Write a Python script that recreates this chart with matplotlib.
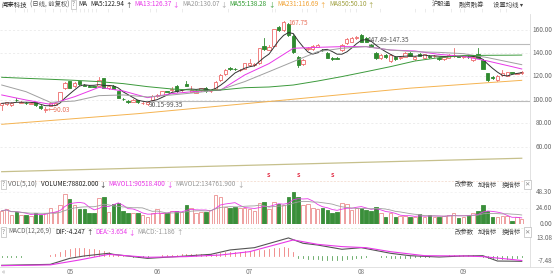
import matplotlib
matplotlib.use("Agg")
import matplotlib.pyplot as plt
import pandas as pd
from matplotlib import transforms

plt.rcParams['font.family'] = ['Noto Sans CJK SC', 'DejaVu Sans']

# ---- daily candles ----
opens = [95.2, 96.2, 95.6, 100.2, 97.5, 97.2, 96.8, 98.0, 95.0, 91.5,
         95.0, 96.0, 99.0, 110.0, 116.0, 112.0, 116.0, 112.5, 111.8, 111.5,
         112.0, 118.5, 110.0, 112.0, 107.5, 101.0, 99.0, 98.5, 99.9, 96.9,
         96.2, 100.0, 103.0, 104.2, 107.2, 108.2, 112.0, 108.3, 113.5, 107.0,
         106.0, 108.2, 110.4, 107.4, 109.3, 117.0, 121.8, 127.0, 126.2, 125.5,
         126.4, 129.8, 129.5, 131.2, 146.3, 142.7, 146.3, 162.6, 159.7, 165.0,
         155.0, 136.9, 130.4, 143.8, 143.5, 145.5, 142.6, 139.8, 136.1, 135.8,
         142.6, 148.3, 149.8, 153.2, 155.5, 153.2, 146.9, 139.8, 135.5, 138.4,
         133.5, 136.7, 135.5, 136.9, 139.8, 134.9, 139.5, 136.1, 137.8, 137.6,
         136.1, 134.7, 136.1, 137.5, 137.1, 136.7, 137.0, 134.0, 138.9, 134.1,
         122.7, 119.8, 117.0, 121.3, 120.7, 123.5, 122.3, 122.7]
highs = [97.5, 98.5, 98.0, 102.0, 99.0, 98.0, 97.8, 98.5, 95.5, 93.5,
         98.0, 98.5, 107.0, 115.0, 116.5, 115.0, 116.5, 113.5, 112.5, 112.2,
         119.5, 119.0, 112.5, 112.5, 108.0, 102.0, 99.5, 100.5, 100.3, 97.8,
         98.5, 104.0, 105.0, 108.0, 108.0, 111.0, 112.5, 109.2, 116.0, 112.0,
         108.5, 110.5, 111.0, 108.5, 116.5, 122.0, 126.3, 128.5, 127.2, 126.6,
         131.8, 135.0, 131.5, 144.5, 152.5, 146.5, 161.0, 163.5, 167.75, 166.0,
         156.0, 137.5, 135.0, 145.0, 147.0, 147.5, 143.5, 140.5, 136.5, 136.5,
         147.5, 152.5, 154.0, 155.0, 156.0, 153.8, 147.5, 140.5, 139.0, 139.0,
         139.2, 137.3, 137.3, 140.5, 140.5, 137.5, 140.0, 139.6, 138.5, 138.5,
         136.7, 137.5, 139.0, 144.0, 137.6, 137.6, 137.5, 137.5, 144.5, 134.6,
         123.2, 120.3, 121.2, 125.5, 124.0, 124.0, 123.2, 125.0]
lows = [91.5, 95.5, 95.0, 98.8, 97.0, 96.3, 96.3, 95.0, 92.0, 90.03,
        94.5, 95.5, 98.5, 109.0, 110.0, 111.0, 113.0, 111.5, 110.8, 110.6,
        111.5, 110.0, 109.5, 109.0, 101.5, 99.5, 97.5, 98.0, 97.5, 96.2,
        95.5, 99.5, 102.5, 103.8, 106.3, 107.8, 107.0, 107.5, 112.0, 106.5,
        105.5, 107.8, 107.0, 106.8, 108.8, 116.5, 121.3, 125.8, 125.2, 124.8,
        126.0, 129.2, 129.0, 130.8, 143.0, 142.2, 146.0, 159.0, 159.2, 154.5,
        140.0, 128.5, 129.5, 143.0, 143.0, 145.0, 141.8, 135.5, 134.5, 134.6,
        142.0, 147.8, 149.3, 152.4, 149.3, 149.3, 145.0, 135.0, 135.0, 136.0,
        132.7, 134.5, 135.0, 136.5, 137.2, 134.5, 137.3, 135.6, 136.2, 137.0,
        134.5, 134.2, 135.6, 137.0, 136.3, 136.2, 136.2, 133.5, 135.6, 126.0,
        116.5, 117.8, 116.5, 120.8, 120.2, 122.8, 121.8, 122.2]
closes = [97.0, 97.8, 97.3, 99.5, 98.3, 97.0, 97.2, 95.6, 92.8, 92.5,
          97.0, 97.5, 106.5, 114.0, 110.5, 114.2, 113.8, 112.0, 111.3, 111.0,
          117.0, 110.5, 111.8, 109.4, 102.0, 100.5, 98.5, 99.9, 97.9, 97.2,
          97.8, 103.5, 104.5, 107.5, 107.0, 109.3, 107.6, 108.5, 112.2, 108.7,
          107.6, 109.9, 107.6, 107.8, 115.6, 121.3, 125.5, 126.6, 126.0, 125.9,
          131.2, 131.8, 130.7, 144.1, 143.5, 145.5, 160.6, 159.7, 166.3, 155.5,
          141.2, 129.8, 134.1, 144.2, 146.3, 146.9, 142.3, 136.1, 135.0, 135.0,
          146.9, 152.0, 152.6, 153.4, 149.8, 149.8, 145.5, 135.5, 138.4, 136.7,
          138.5, 135.0, 136.7, 139.8, 137.8, 136.9, 137.8, 139.0, 136.7, 137.9,
          135.0, 136.9, 138.4, 138.0, 136.8, 137.1, 136.7, 136.9, 136.1, 126.4,
          117.0, 118.4, 120.7, 122.7, 123.5, 123.3, 122.6, 124.1]

# volume in 10k lots
volumes = [19.9, 22, 13.5, 18.4, 13.5, 13.5, 12, 17, 14, 16,
           23.4, 18.4, 28.4, 44.8, 37.4, 28.4, 22.4, 22.4, 16, 16.5,
           38.4, 40.9, 18.4, 29.4, 30.9, 20, 16, 16, 17, 13.5,
           11, 17, 22, 16, 16, 20, 19.4, 18.4, 28.4, 23.4,
           16, 18.4, 18.4, 21, 43.3, 40.9, 25.9, 23.4, 25.9, 23.4,
           24.4, 22.4, 20, 31.9, 33.4, 22.4, 33.4, 30.4, 28.4, 40.9,
           48.3, 40.9, 28.4, 30.4, 24.4, 22.4, 23.4, 21, 17, 18.4,
           30.9, 30.4, 21, 24.4, 23.4, 21, 20, 25.4, 16, 11,
           16, 11, 12, 12, 11, 11, 14.5, 10, 13.5, 11,
           11, 12, 13.5, 16, 9.5, 11, 13.5, 16, 20, 28.4,
           19.4, 10, 11, 12, 12, 5, 10, 7]

macd_hist = [-1.0, -0.9, -0.8, -0.8, -0.7, -0.6, -0.5, -0.4, -0.3, -0.2,
             0.6, 1.5, 2.5, 4.0, 5.0, 5.5, 6.0, 5.8, 5.3, 5.0,
             4.3, 3.5, 2.5, 1.5, 0.8, 0.3, -0.5, -0.8, -1.0, -1.0,
             -0.8, -0.5, -0.2, 0.3, 0.5, 0.6, 0.8, 0.9, 1.0, 1.0,
             1.1, 1.2, 1.3, 1.3, 1.5, 2.0, 2.4, 2.6, 2.8, 3.0,
             3.3, 3.5, 3.8, 4.2, 4.6, 5.0, 5.5, 6.0, 6.3, 5.5,
             3.0, -1.5, -2.0, -2.3, -2.5, -2.8, -3.0, -3.2, -3.3, -3.2,
             -3.0, -2.6, -2.2, -1.8, -1.4, -1.0, -0.5, -0.3, -0.8, -1.2,
             -1.5, -1.6, -1.6, -1.5, -1.4, -1.3, -1.2, -1.0, -0.8, -0.6,
             -0.4, -0.2, 0.2, 0.4, 0.5, 0.4, 0.3, 0.2, 0.1, -1.0,
             -2.0, -2.5, -2.6, -2.5, -2.2, -1.8, -1.5, -1.2]
dif_idx = [0, 10, 14, 17, 22, 23, 30, 36, 43, 47, 52, 59, 62, 65, 70, 74, 80, 84, 90, 95, 99, 102, 107]
dif_val = [-7.2, -6.5, -2.0, -0.2, 1.8, 1.0, -2.0, -0.7, 1.0, 4.3, 6.0, 13.3, 9.3, 8.0, 4.8, 6.0, 1.8, 0.0, -1.0, -0.2, 0.0, -4.0, -4.2]
dea_idx = [0, 10, 16, 22, 30, 38, 45, 51, 60, 65, 70, 75, 80, 87, 95, 99, 104, 107]
dea_val = [-7.5, -6.9, -3.2, 1.0, -1.2, -0.7, 0.5, 3.0, 11.8, 8.5, 6.8, 6.0, 3.0, 0.0, -0.2, -0.7, -2.5, -3.6]

# moving averages
ma_idx = [0, 5, 10, 15, 20, 25, 30, 35, 40, 45, 50, 55, 60, 65, 70, 75, 80, 85, 90, 95, 100, 105, 107]
ma13 = [104.2, 99.9, 96.2, 102.7, 110.7, 107.6, 101.9, 105.3, 107.3, 108.2, 121.3, 131.0,
        144.1, 144.9, 145.5, 145.5, 142.6, 141.8, 138.9, 137.2, 133.2, 128.4, 126.4]
ma20 = [112.7, 107.0, 97.9, 99.0, 103.6, 104.2, 102.5, 104.2, 106.2, 108.7, 115.6, 124.1,
        132.7, 141.2, 144.1, 145.5, 142.6, 141.2, 140.6, 139.5, 136.1, 131.8, 130.1]
ma55 = [119.3, 118.4, 117.6, 116.7, 115.6, 113.9, 111.3, 109.3, 108.2, 108.4, 110.4, 111.0,
        112.7, 116.1, 119.9, 124.1, 128.4, 133.2, 136.1, 137.8, 138.1, 138.2, 138.3]
ma231_idx = [0, 28, 56, 84, 107]
ma231 = [79.1, 88.2, 99.0, 110.0, 116.7]
ma850_idx = [0, 107]
ma850 = [38.6, 50.1]

month_idx = [14, 32, 51, 74, 95]
month_labels = ["05", "06", "07", "08", "09"]
price_ticks = [160, 140, 120, 100, 80, 60]

W, H = 554, 276
UP, DOWN = '#ee6a6a', '#2f8a2f'
fig = plt.figure(figsize=(W / 100, H / 100), dpi=100)
fig.patch.set_facecolor('white')


def px_axes(left, top, right, bottom):
    return fig.add_axes([left / W, 1 - bottom / H, (right - left) / W, (bottom - top) / H])


n = len(closes)
xs = list(range(n))
xlim = (-0.35, 108.7)

ax = px_axes(0, 14, 530, 180)
axv = px_axes(0, 188, 530, 224)
axm = px_axes(0, 237, 530, 266.7)
for a in (ax, axv, axm):
    a.set_xlim(*xlim)
    a.set_xticks([])
    a.set_yticks([])
    for s in a.spines.values():
        s.set_visible(False)
    a.patch.set_alpha(0)

# ---- price panel ----
ax.set_ylim(31.5, 173.4)
for p in price_ticks:
    ax.axhline(p, color='#e6e6e6', lw=0.5, ls=(0, (3, 3)), zorder=0)
ax.plot([31, xlim[1]], [99.35, 99.35], color='#bbbbbb', lw=0.8, zorder=1)
ax.plot([75.5, xlim[1]], [147.35, 147.35], color='#bbbbbb', lw=0.8, zorder=1)

for i in xs:
    o, h, l, c = opens[i], highs[i], lows[i], closes[i]
    up = c >= o
    col = UP if up else DOWN
    lo_b, hi_b = min(o, c), max(o, c)
    ax.plot([i, i], [l, lo_b], color=col, lw=0.6, zorder=3)
    ax.plot([i, i], [hi_b, h], color=col, lw=0.6, zorder=3)
    ax.bar(i, max(hi_b - lo_b, 0.25), bottom=lo_b, width=0.68,
           facecolor='white' if up else col, edgecolor=col, lw=0.6, zorder=4)

ma5 = pd.Series(closes).rolling(5, min_periods=1).mean()
ax.plot(xs, ma5, color='#333333', lw=0.7, zorder=5)
ax.plot(ma_idx, ma13, color='#e838e8', lw=0.7, zorder=5)
ax.plot(ma_idx, ma20, color='#a0a0a0', lw=0.7, zorder=5)
ax.plot(ma_idx, ma55, color='#3c9a3c', lw=0.7, zorder=5)
ax.plot(ma231_idx, ma231, color='#f5b350', lw=0.7, zorder=5)
ax.plot(ma850_idx, ma850, color='#c6c08c', lw=0.9, zorder=5)

ax.text(58.9, 165.5, "167.75", color='#e8705a', fontsize=4.6, va='center', ha='left', zorder=6)
ax.text(9.4, 91.0, "\u219090.03", color='#e8705a', fontsize=4.6, va='center', ha='left', zorder=6)
ax.text(30.3, 95.4, "90.15-99.35", color='#555555', fontsize=4.6, va='center', ha='left', zorder=6)
ax.text(75.2, 151.0, "147.49-147.35", color='#555555', fontsize=4.6, va='center', ha='left', zorder=2)
for si in (55, 61, 68):
    ax.text(si, 35.5, "S", color='#e0203a', fontsize=4.0, fontweight='bold', ha='center', va='center')

yl = transforms.blended_transform_factory(fig.transFigure, ax.transData)
for p in price_ticks:
    ax.text(552 / W, p, f"{p:.2f}", transform=yl, ha='right', va='center', fontsize=4.6, color='#666666')

# ---- volume panel ----
axv.set_ylim(0, 53.8)
for v in (24.6, 48.3):
    axv.axhline(v, color='#eeeeee', lw=0.5, ls=(0, (3, 3)), zorder=0)
for i in xs:
    up = closes[i] >= opens[i]
    if up:
        axv.bar(i, volumes[i], width=0.72, facecolor='white', edgecolor='#eb8f8f', lw=0.6)
    else:
        axv.bar(i, volumes[i], width=0.72, facecolor='#3a8f3a', edgecolor='#3a8f3a', lw=0.6)
vs = pd.Series(volumes)
axv.plot(xs, vs.rolling(5, min_periods=1).mean(), color='#e838e8', lw=0.6)
axv.plot(xs, vs.rolling(10, min_periods=1).mean(), color='#a0a0a0', lw=0.6)
vl = transforms.blended_transform_factory(fig.transFigure, axv.transData)
for v, s in ((48.3, "48.30"), (24.6, "24.60"), (0, "0.00")):
    axv.text(552 / W, v, s, transform=vl, ha='right', va='center', fontsize=4.6, color='#666666')

# ---- MACD panel ----
axm.set_ylim(-8.25, 14.0)
for i in xs:
    v = macd_hist[i]
    axm.plot([i, i], [0, v], color='#ee7070' if v >= 0 else '#4a9a4a', lw=0.55)
axm.plot(dif_idx, dif_val, color='#555555', lw=0.8)
axm.plot(dea_idx, dea_val, color='#e838e8', lw=0.8)
fig.text(552 / W, 1 - 238.5 / H, "13.08", ha='right', va='center', fontsize=4.6, color='#666666')
fig.text(552 / W, 1 - 261 / H, "-7.48", ha='right', va='center', fontsize=4.6, color='#666666')

# month labels
for mi, lab in zip(month_idx, month_labels):
    xf = fig.transFigure.inverted().transform(axm.transData.transform((mi, 0)))[0]
    fig.text(xf, 1 - 272 / H, lab, ha='center', va='center', fontsize=4.6, color='#777777')
fig.text(3 / W, 1 - 272 / H, "\u00ab", ha='center', va='center', fontsize=5, color='#999999')
fig.text(551 / W, 1 - 272 / H, "\u00bb", ha='center', va='center', fontsize=5, color='#999999')

# frame lines
def hline(y, x0=0, x1=530, **kw):
    fig.add_artist(plt.Line2D([x0 / W, x1 / W], [1 - y / H, 1 - y / H], **kw))

fig.add_artist(plt.Line2D([530 / W, 530 / W], [1 - 14 / H, 1 - 267 / H], color='#dddddd', lw=0.6))
hline(267, 0, 554, color='#dddddd', lw=0.6)
hline(180.5, color='#f2d6c8', lw=0.5, ls=(0, (3, 2)))
hline(228, color='#d8e8d0', lw=0.5, ls=(0, (3, 2)))

# ---- header rows ----
renderer = fig.canvas.get_renderer()
box = dict(boxstyle='square,pad=0.12', fc='white', ec='#aaaaaa', lw=0.4)


def row(items, x, y, size=4.6):
    for txt, color, gap, boxed in items:
        t = fig.text(x / W, 1 - y / H, txt, color=color, fontsize=size, ha='left', va='center',
                     bbox=box if boxed else None)
        x += t.get_window_extent(renderer).width + gap


row([("闻泰科技", '#333333', 3, False), ("(日线, 前复权)", '#555555', 3, False), ("?", '#888888', 3, True),
     ("MA", '#222222', 3, False),
     ("MA5:122.94", '#222222', 1, False), ("\u2191", '#222222', 3, False),
     ("MA13:126.37", '#e838e8', 1, False), ("\u2193", '#e838e8', 3, False),
     ("MA20:130.07", '#999999', 1, False), ("\u2193", '#999999', 3, False),
     ("MA55:138.28", '#2e9a2e', 1, False), ("\u2193", '#2e9a2e', 3, False),
     ("MA231:116.69", '#f0a030', 1, False), ("\u2191", '#f0a030', 3, False),
     ("MA850:50.10", '#a0a040', 1, False), ("\u2191", '#a0a040', 3, False)], 1, 4.5)
row([("沪股通", '#444444', 8, False), ("融资融券", '#444444', 8, False), ("设置均线 \u25be", '#444444', 0, False)], 432, 4.5)

for xm in (15, 24, 27, 34, 45, 53, 60, 66, 72, 76, 80, 84, 88, 92, 96, 108, 122, 150, 156, 182, 228,
           272, 275, 302, 307, 316, 345, 350, 356, 380, 415, 425, 433, 451, 460, 464, 482, 500, 506):
    fig.text(xm / W, 1 - 11 / H, "\u2503", color='#d0d0d0', fontsize=2.5, ha='center', va='center')

row([("?", '#888888', 3, True), ("VOL(5,10)", '#666666', 4, False), ("VOLUME:78802.000", '#222222', 1, False),
     ("\u2193", '#222222', 3, False), ("MAVOL1:90518.400", '#e838e8', 1, False), ("\u2193", '#e838e8', 3, False),
     ("MAVOL2:134761.900", '#999999', 1, False), ("\u2193", '#999999', 3, False)], 2, 184.5)
row([("?", '#888888', 3, True), ("MACD(12,26,9)", '#666666', 4, False), ("DIF:-4.247", '#222222', 1, False),
     ("\u2191", '#222222', 3, False), ("DEA:-3.654", '#e838e8', 1, False), ("\u2193", '#e838e8', 3, False),
     ("MACD:-1.186", '#999999', 1, False), ("\u2191", '#999999', 3, False)], 2, 232)
for yy in (184.5, 232):
    row([("改参数", '#444444', 4, False), ("加指标", '#444444', 4, False), ("换指标", '#444444', 4, False),
         ("\u2715", '#888888', 0, True)], 455, yy)

fig.savefig("out.png", dpi=100, facecolor='white')
